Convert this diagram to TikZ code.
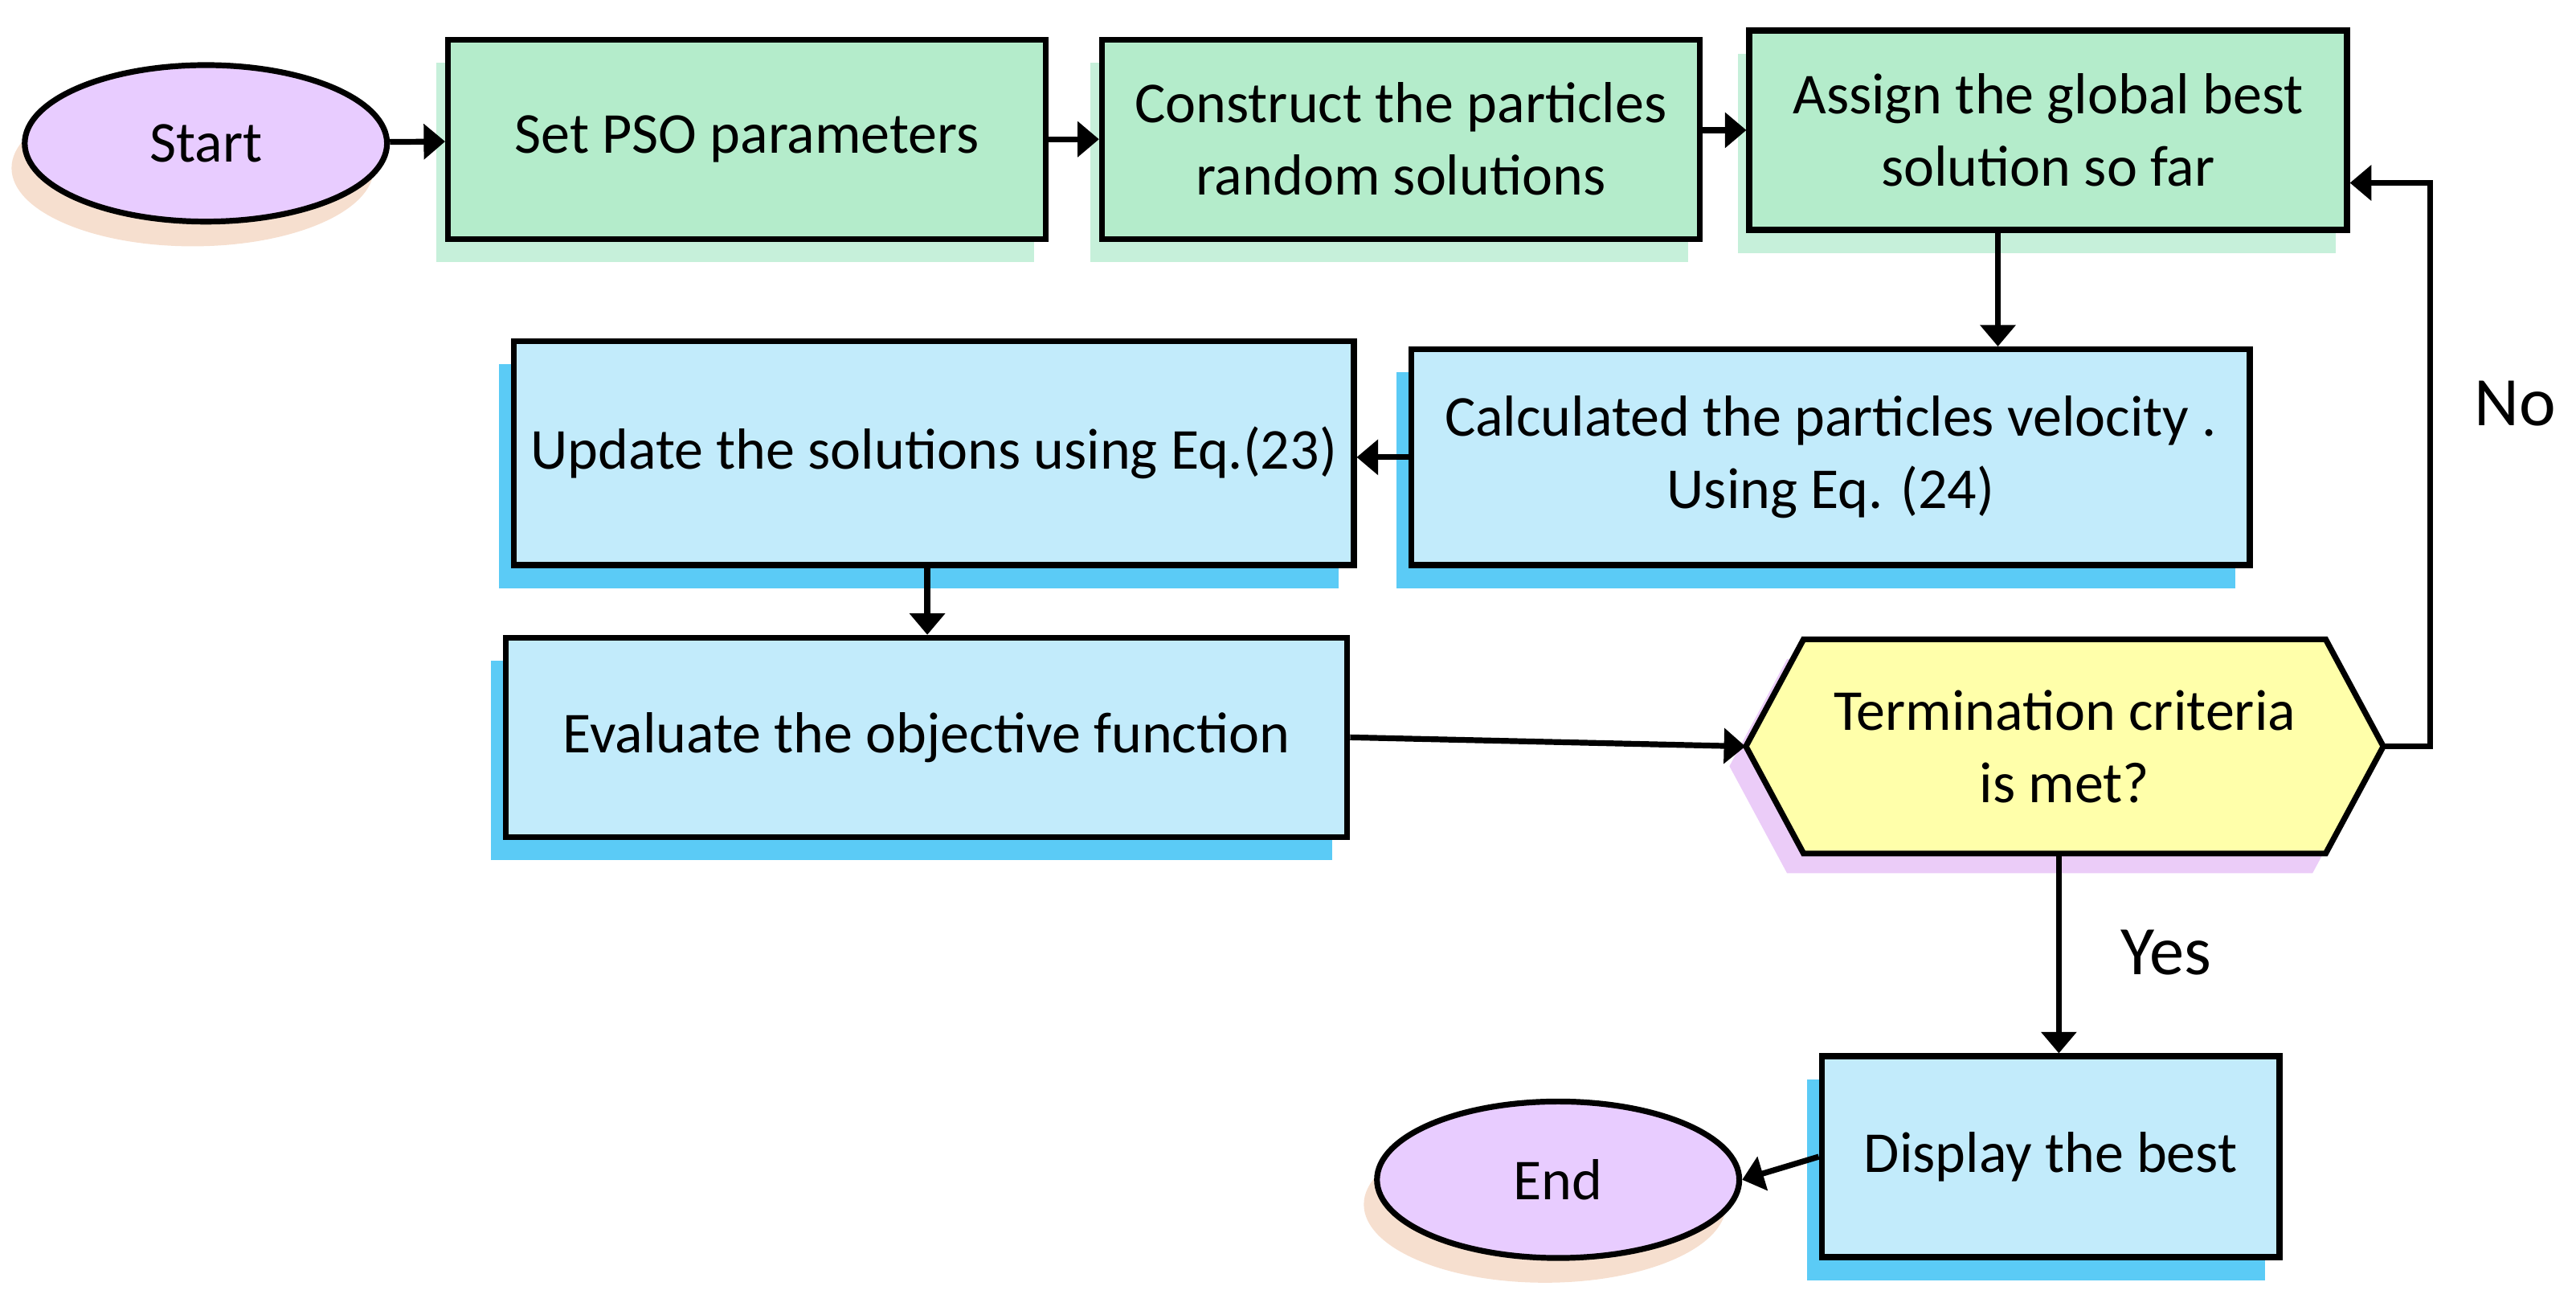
\documentclass[tikz,border=0pt]{standalone}
\usepackage{fontspec}
\setmainfont{Carlito}
\usetikzlibrary{shapes.geometric,shadows,arrows.meta,calc}
\definecolor{gfill}{HTML}{B4ECCB}
\definecolor{gshad}{HTML}{C6F0DA}
\definecolor{bfill}{HTML}{C2EBFB}
\definecolor{bshad}{HTML}{5BCBF6}
\definecolor{pfill}{HTML}{E8CCFF}
\definecolor{oshad}{HTML}{F6DFCF}
\definecolor{yfill}{HTML}{FFFFAA}
\definecolor{hshad}{HTML}{EBCCF8}
\tikzset{
  every node/.style={font=\fontsize{20}{25}\selectfont, align=center},
  gbox/.style={draw, line width=2pt, fill=gfill, minimum width=7.26cm, minimum height=2.42cm,
    copy shadow={shadow xshift=-0.14cm, shadow yshift=-0.28cm, fill=gshad, draw=none}},
  bbox/.style={draw, line width=2pt, fill=bfill,
    copy shadow={shadow xshift=-0.18cm, shadow yshift=-0.28cm, fill=bshad, draw=none}},
  oval/.style={ellipse, draw, line width=2pt, fill=pfill, minimum width=4.4cm, minimum height=1.9cm,
    copy shadow={shadow xshift=-0.16cm, shadow yshift=-0.3cm, fill=oshad, draw=none}},
  conn/.style={line width=2pt, -{Triangle[length=0.26cm,width=0.42cm]}},
  lbl/.style={font=\fontsize{24}{28}\selectfont}
}
\begin{document}
\begin{tikzpicture}[x=0.02cm,y=-0.02cm]
\path[use as bounding box] (0,0) rectangle (1564,798);
\node[oval] (start) at (125,87) {Start};
\node[gbox] (pso) at (453.5,84.5) {Set PSO parameters};
\node[gbox] (cons) at (850.5,84.5) {Construct the particles\\random solutions};
\node[gbox] (assign) at (1243.5,79) {Assign the global best\\solution so far};
\node[bbox, minimum width=10.18cm, minimum height=2.62cm] (calc) at (1111.5,277.5) {Calculated the particles velocity .\\Using Eq. (24)};
\node[bbox, minimum width=10.2cm, minimum height=2.72cm] (upd) at (567,275) {Update the solutions using Eq.(23)};
\node[bbox, minimum width=10.22cm, minimum height=2.42cm] (eval) at (562.5,447.5) {Evaluate the objective function};
\fill[hshad] (1050,465) -- (1085,400) -- (1404,400) -- (1439,465) -- (1404,530) -- (1085,530) -- cycle;
\draw[line width=2pt, fill=yfill] (1060,453) -- (1095,388) -- (1412,388) -- (1447,453) -- (1412,518) -- (1095,518) -- cycle;
\node[minimum width=7.74cm, minimum height=2.6cm] (term) at (1253.5,453) {Termination criteria\\is met?};
\node[bbox, minimum width=5.56cm, minimum height=2.44cm] (disp) at (1245,702) {Display the best};
\node[oval] (end) at (946,716) {End};
\node[lbl] (no) at (1527,245) {No};
\node[lbl] (yes) at (1315,578) {Yes};
\draw[conn] (start) -- (pso);
\draw[conn] (pso) -- (cons);
\draw[conn] (cons.east |- assign.west) -- (assign.west);
\draw[conn] (1213,140) coordinate (a1) -- (a1 |- calc.north);
\draw[conn] (calc.west) -- (upd.east |- calc.west);
\draw[conn] (563,343) coordinate (u1) -- (u1 |- eval.north);
\draw[conn] (eval.east) -- (term.west);
\draw[conn] (1250,518) coordinate (t1) -- (t1 |- disp.north);
\draw[conn] (term.east) -- ++(28,0) |- ([yshift=-0.64cm]assign.east);
\draw[conn] (disp.west) -- (end.east);
\end{tikzpicture}
\end{document}
